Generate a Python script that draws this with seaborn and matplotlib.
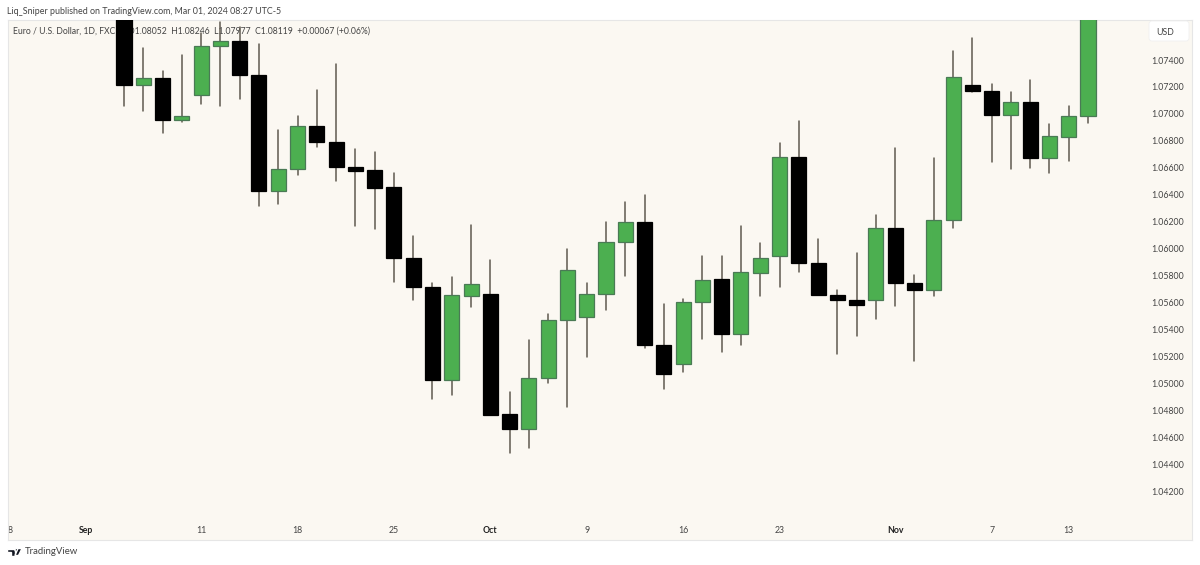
import numpy as np
import pandas as pd
import matplotlib
matplotlib.use("Agg")
import matplotlib.pyplot as plt
import seaborn as sns
from matplotlib.patches import FancyBboxPatch, Polygon, Circle
from matplotlib.transforms import IdentityTransform

opens = [1.07900, 1.07214, 1.07266, 1.06955, 1.07140, 1.07504, 1.07541, 1.07289, 1.06427, 1.06591,
         1.06910, 1.06791, 1.06606, 1.06583, 1.06457, 1.05930, 1.05715, 1.05024, 1.05648, 1.05663,
         1.04772, 1.04661, 1.05039, 1.05470, 1.05492, 1.05663, 1.06049, 1.06197, 1.05284, 1.05143,
         1.05603, 1.05774, 1.05366, 1.05819, 1.05945, 1.06680, 1.05893, 1.05655, 1.05618, 1.05618,
         1.06153, 1.05744, 1.05693, 1.06212, 1.07214, 1.07170, 1.06992, 1.07088, 1.06672, 1.06828,
         1.06984]
closes = [1.07214, 1.07266, 1.06955, 1.06984, 1.07504, 1.07541, 1.07289, 1.06427, 1.06591, 1.06910,
          1.06791, 1.06606, 1.06576, 1.06450, 1.05930, 1.05715, 1.05024, 1.05655, 1.05737, 1.04764,
          1.04661, 1.05039, 1.05470, 1.05841, 1.05663, 1.06049, 1.06197, 1.05284, 1.05069, 1.05603,
          1.05767, 1.05366, 1.05826, 1.05930, 1.06680, 1.05893, 1.05655, 1.05618, 1.05581, 1.06153,
          1.05744, 1.05693, 1.06212, 1.07274, 1.07170, 1.06992, 1.07088, 1.06672, 1.06836, 1.06984,
          1.08000]
highs = [1.08000, 1.07489, 1.07318, 1.07437, 1.07600, 1.07682, 1.07645, 1.07519, 1.06880, 1.06984,
         1.07177, 1.07370, 1.06739, 1.06717, 1.06561, 1.06093, 1.05744, 1.05789, 1.06175, 1.05915,
         1.04935, 1.05321, 1.05514, 1.05997, 1.05744, 1.06197, 1.06346, 1.06398, 1.05589, 1.05626,
         1.05945, 1.05945, 1.06168, 1.06041, 1.06784, 1.06947, 1.06071, 1.05693, 1.05967, 1.06249,
         1.06747, 1.05804, 1.06672, 1.07467, 1.07563, 1.07222, 1.07162, 1.07252, 1.06925, 1.07058,
         1.08100]
lows = [1.07058, 1.07021, 1.06858, 1.06940, 1.07073, 1.07058, 1.07110, 1.06316, 1.06331, 1.06546,
        1.06754, 1.06502, 1.06168, 1.06145, 1.05752, 1.05618, 1.04883, 1.04913, 1.05566, 1.04764,
        1.04482, 1.04519, 1.05002, 1.04824, 1.05195, 1.05544, 1.05796, 1.05262, 1.04958, 1.05084,
        1.05329, 1.05232, 1.05284, 1.05648, 1.05715, 1.05826, 1.05655, 1.05217, 1.05351, 1.05477,
        1.05574, 1.05165, 1.05648, 1.06153, 1.07162, 1.06643, 1.06591, 1.06598, 1.06561, 1.06650,
        1.06932]

price_ticks = [1.042, 1.044, 1.046, 1.048, 1.050, 1.052, 1.054, 1.056, 1.058,
               1.060, 1.062, 1.064, 1.066, 1.068, 1.070, 1.072, 1.074]
date_pos = [-5.9, -2, 4, 9, 14, 19, 24, 29, 34, 40, 45, 49]
date_labels = ["8", "Sep", "11", "18", "25", "Oct", "9", "16", "23", "Nov", "7", "13"]
month_labels = ["Sep", "Oct", "Nov"]

UP = "#4CAF50"
UP_EDGE = "#4A7A55"
DOWN = "#000000"
WICK = "#5f5a50"
PANEL = "#FBF8F2"
TEXT = "#444444"

sns.set_theme(style="white")
plt.rcParams["font.family"] = ["Lato", "DejaVu Sans"]

df = pd.DataFrame({"day": range(len(opens)), "open": opens, "close": closes,
                   "high": highs, "low": lows})
df["bottom"] = df[["open", "close"]].min(axis=1)
df["height"] = (df["open"] - df["close"]).abs()
up = df[df["close"] >= df["open"]]
down = df[df["close"] < df["open"]]
wicks = df.melt(id_vars="day", value_vars=["high", "low"], value_name="price")

fig = plt.figure(figsize=(12, 5.65), dpi=100)
ax = fig.add_axes([7.5 / 1200, 1 - 540 / 565, (1192 - 7.5) / 1200, 520 / 565])
ax.set_facecolor(PANEL)

sns.lineplot(data=wicks, x="day", y="price", units="day", estimator=None,
             color=WICK, lw=1.1, legend=False, ax=ax, zorder=2)
sns.barplot(data=up, x="day", y="height", bottom=up["bottom"].values, color=UP, saturation=1,
            native_scale=True, width=0.78, errorbar=None, ax=ax, zorder=3,
            linewidth=0.9, edgecolor=UP_EDGE)
sns.barplot(data=down, x="day", y="height", bottom=down["bottom"].values, color=DOWN, saturation=1,
            native_scale=True, width=0.78, errorbar=None, ax=ax, zorder=3,
            linewidth=0.9, edgecolor=DOWN)

# 19.28 px per day, first candle centred at x=124
ax.set_xlim((7.5 - 124) / 19.28, (1192 - 124) / 19.28)
ax.set_ylim(1.074 - (540 - 60) * 7.424e-5, 1.074 + (60 - 20) * 7.424e-5)

ax.yaxis.tick_right()
ax.set_yticks(price_ticks, [f"{p:.5f}" for p in price_ticks])
ax.set_xticks(date_pos, date_labels)
ax.tick_params(axis="y", length=0, pad=-29.7, labelsize=6.3, labelcolor=TEXT)
ax.tick_params(axis="x", length=0, pad=-9.8, labelsize=6.3, labelcolor=TEXT)
for lab in ax.get_xticklabels():
    if lab.get_text() in month_labels:
        lab.set_fontweight("bold")
        lab.set_color("#222222")
ax.set_xlabel("")
ax.set_ylabel("")
ax.grid(False)
for side in ax.spines.values():
    side.set_color("#e6e6e6")
    side.set_linewidth(0.8)

fig.text(7 / 1200, 1 - 11.5 / 565, "Liq_Sniper published on TradingView.com, Mar 01, 2024 08:27 UTC-5",
         fontsize=6.4, color=TEXT, va="center")
ax.text(5.5 / 1184.5, 1 - 11.5 / 520, "Euro / U.S. Dollar, 1D, FXCM  O1.08052  H1.08246  L1.07977  C1.08119  +0.00067 (+0.06%)",
        transform=ax.transAxes, fontsize=6.2, color=TEXT, va="center", zorder=1)
fig.text(25 / 1200, 1 - 552 / 565, "TradingView", fontsize=6.9, color=TEXT, va="center")

px = IdentityTransform()
fig.add_artist(FancyBboxPatch((1152, 565 - 38), 34, 14, boxstyle="round,pad=3,rounding_size=3",
                              fc="white", ec="#f0f0f0", lw=0.6, transform=px))
fig.text(1156 / 1200, 1 - 32.5 / 565, "USD", fontsize=6.3, color=TEXT, va="center", zorder=5)

# logo
fig.add_artist(Polygon([(7, 565 - 548.5), (14.5, 565 - 548.5), (14.5, 565 - 555.5), (10.5, 565 - 555.5),
                        (10.5, 565 - 551.5), (7, 565 - 551.5)], fc="#131722", transform=px))
fig.add_artist(Circle((16.6, 565 - 550), 1.6, fc="#131722", transform=px))
fig.add_artist(Polygon([(18, 565 - 548.5), (22, 565 - 548.5), (18.5, 565 - 555.5), (15, 565 - 555.5)],
                       fc="#131722", transform=px))

fig.savefig("out.png", dpi=100, facecolor="white")
